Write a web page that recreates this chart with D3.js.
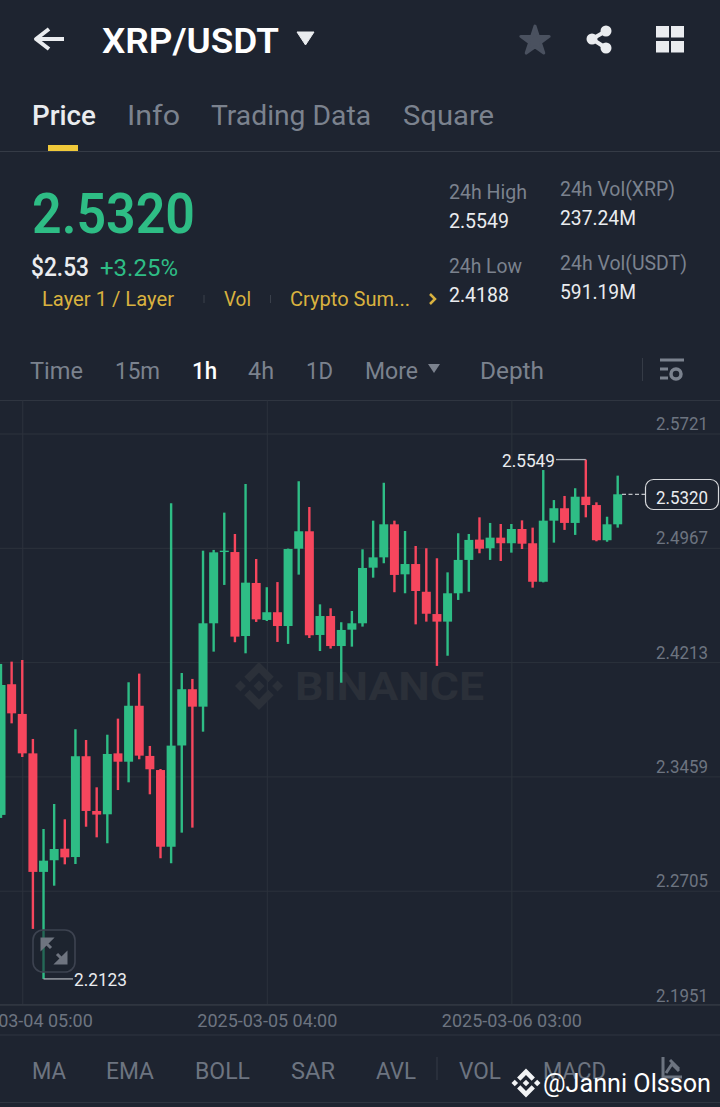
<!DOCTYPE html>
<html>
<head>
<meta charset="utf-8">
<style>
  html, body { margin: 0; padding: 0; background: #1e2430; }
  svg { display: block; }
  text { font-family: Roboto, "Noto Sans", sans-serif; }
</style>
</head>
<body>
<svg id="chart" width="720" height="1107"></svg>
<script src="https://cdn.jsdelivr.net/npm/d3@7"></script>
<script>
// hourly candles, oldest first
const opens = [2.3205,2.4067,2.3871,2.3611,2.2829,2.2906,2.2982,2.2927,2.3592,2.3231,2.3209,2.3611,2.3556,2.3925,2.3594,2.3501,2.2995,2.3663,2.4034,2.3919,2.4469,2.4939,2.4939,2.4385,2.4735,2.4491,2.4542,2.4451,2.4961,2.5076,2.4392,2.4517,2.4319,2.4427,2.4469,2.4836,2.4904,2.5122,2.4792,2.4860,2.4677,2.4530,2.4480,2.4667,2.4887,2.5021,2.4964,2.5034,2.4997,2.5091,2.4997,2.4743,2.5146,2.5228,2.5131,2.5304,2.5249,2.5017,2.5122];
const highs = [2.4201,2.4216,2.4227,2.3706,2.3112,2.3277,2.3176,2.3770,2.3699,2.3387,2.3734,2.3840,2.4080,2.4137,2.3660,2.3508,2.5261,2.4141,2.4102,2.4948,2.4953,2.5199,2.5058,2.5388,2.4893,2.4707,2.4741,2.4962,2.5406,2.5236,2.4594,2.4568,2.4476,2.4550,2.4957,2.5146,2.5396,2.5146,2.5078,2.4979,2.4964,2.4898,2.4805,2.5063,2.5058,2.5168,2.5131,2.5124,2.5124,2.5148,2.5100,2.5480,2.5282,2.5309,2.5360,2.5549,2.5267,2.5172,2.5443];
const lows = [2.3185,2.3809,2.3587,2.2453,2.2123,2.2738,2.2879,2.2881,2.3127,2.3057,2.3018,2.3369,2.3420,2.3572,2.3341,2.2919,2.2886,2.3088,2.3121,2.3754,2.4282,2.4722,2.4344,2.4271,2.4478,2.4484,2.4346,2.4333,2.4790,2.4372,2.4286,2.4302,2.4077,2.4315,2.4447,2.4770,2.4865,2.4674,2.4667,2.4462,2.4480,2.4188,2.4255,2.4623,2.4677,2.4931,2.4887,2.4880,2.4935,2.4959,2.4704,2.4739,2.5001,2.5085,2.5052,2.5168,2.5010,2.5007,2.5100];
const closes = [2.4062,2.3875,2.3611,2.2829,2.2903,2.2980,2.2925,2.3592,2.3231,2.3207,2.3607,2.3556,2.3925,2.3596,2.3506,2.2995,2.3662,2.4034,2.3919,2.4469,2.4937,2.4948,2.4381,2.4737,2.4495,2.4542,2.4451,2.4959,2.5076,2.4390,2.4517,2.4319,2.4425,2.4469,2.4834,2.4904,2.5122,2.4788,2.4860,2.4682,2.4532,2.4480,2.4667,2.4887,2.5019,2.4961,2.5034,2.4997,2.5091,2.4994,2.4743,2.5146,2.5228,2.5131,2.5304,2.5249,2.5017,2.5122,2.5320];

const firstHour = Date.UTC(2025, 2, 4, 3);
const priceTicks = [2.5721, 2.4967, 2.4213, 2.3459, 2.2705, 2.1951];
const timeTicks = [Date.UTC(2025, 2, 4, 5), Date.UTC(2025, 2, 5, 4), Date.UTC(2025, 2, 6, 3)];
const lastPrice = 2.5320, dayHigh = 2.5549, dayLow = 2.2123;

const tabs = ["Price", "Info", "Trading Data", "Square"];
const intervals = ["Time", "15m", "1h", "4h", "1D", "More", "Depth"];
const indicators = ["MA", "EMA", "BOLL", "SAR", "AVL", "VOL", "MACD"];

const BG = "#1e2430", GREEN = "#2ebd85", RED = "#f6465d", GREY = "#7b828e", DIM = "#6d7480",
  GRID = "#2c323c", GOLD = "#d9b23f", WHITE = "#eaecef";

const svg = d3.select("#chart");
svg.append("rect").attr("width", 720).attr("height", 1107).attr("fill", BG);

// text squeezed to the width it has in the screenshot (the app font is narrower than ours)
function label(text, x0, x1, baseline, size, color, weight) {
  return svg.append("text")
    .attr("x", x0).attr("y", baseline)
    .attr("textLength", x1 - x0).attr("lengthAdjust", "spacingAndGlyphs")
    .attr("font-size", size).attr("font-weight", weight || 400)
    .attr("fill", color).text(text);
}

function rule(x1, y1, x2, y2, color, w) {
  return svg.append("line").attr("x1", x1).attr("y1", y1).attr("x2", x2).attr("y2", y2)
    .attr("stroke", color).attr("stroke-width", w || 1);
}

function logo(cx, cy, size, color) {
  const parts = [
    "38.73 53.2 63.3 28.63 87.89 53.22 102.2 38.92 63.3 0 24.42 38.9",
    "0 63.3 14.3 49 28.6 63.3 14.3 77.6",
    "38.73 73.41 63.3 98 87.89 73.4 102.2 87.7 63.3 126.61 24.42 87.71",
    "98 63.31 112.3 49 126.6 63.3 112.3 77.61",
    "77.83 63.3 63.3 48.78 48.78 63.29 63.3 77.82",
  ];
  const k = size / 126.61;
  const g = svg.append("g")
    .attr("transform", `translate(${cx - size / 2},${cy - size / 2}) scale(${k})`);
  parts.forEach((p) => g.append("polygon").attr("points", p).attr("fill", color));
}

// --- header chrome ---

svg.append("path").attr("d", "M64,39 H37 M49,29 L36,39 L49,49")
  .attr("fill", "none").attr("stroke", WHITE).attr("stroke-width", 4).attr("stroke-linejoin", "round");
label("XRP/USDT", 102, 279, 52.5, 35, "#fff", 600);
svg.append("path").attr("d", "M297,32 H314 L305.5,45 Z").attr("fill", WHITE).attr("stroke", WHITE).attr("stroke-linejoin", "round");

svg.append("path").attr("transform", "translate(535,41)")
  .attr("d", d3.symbol(d3.symbolStar, 250)()).attr("fill", "#4a515f").attr("stroke", "#4a515f")
  .attr("stroke-width", 3).attr("stroke-linejoin", "round");

svg.append("path").attr("d", "M606,31 L592,39 L606,48")
  .attr("fill", "none").attr("stroke", WHITE).attr("stroke-width", 4);
[[606, 31], [592, 39], [606, 48]].forEach(([cx, cy]) =>
  svg.append("circle").attr("cx", cx).attr("cy", cy).attr("r", 5.5).attr("fill", WHITE));

[[656, 26], [671, 26], [656, 41], [671, 41]].forEach(([x, y]) =>
  svg.append("rect").attr("x", x).attr("y", y).attr("width", 13).attr("height", 11.5).attr("fill", WHITE));

const tabX = [[32, 96], [127, 180], [211, 371], [403, 494]];
tabs.forEach((t, i) => label(t, tabX[i][0], tabX[i][1], 124.5, 27.5, i === 0 ? WHITE : GREY, i === 0 ? 500 : 400));
svg.append("rect").attr("x", 48).attr("y", 145).attr("width", 30).attr("height", 6).attr("fill", "#f0c93a");
rule(0, 151.5, 720, 151.5, "#353b46");

// --- price block ---

label("2.5320", 32, 195, 233, 56, GREEN, 600);
label("$2.53", 31, 89, 276, 25, WHITE, 500);
label("+3.25%", 100, 178, 276, 24.5, GREEN, 400);
label("Layer 1 / Layer", 42, 174, 306, 20.5, GOLD);
label("Vol", 224, 251, 306, 20.5, GOLD);
label("Crypto Sum...", 290, 410, 306, 20.5, GOLD);
rule(204, 295, 204, 303, "#3a404b");
rule(270.5, 295, 270.5, 303, "#3a404b");
svg.append("path").attr("d", "M430,294 L435,299 L430,304").attr("fill", "none").attr("stroke", GOLD).attr("stroke-width", 2.5);

label("24h High", 449, 527, 199, 20.5, GREY);
label("2.5549", 449, 509, 227.5, 19.5, WHITE);
label("24h Low", 449, 522, 273, 20.5, GREY);
label("2.4188", 449, 509, 301.5, 19.5, WHITE);
label("24h Vol(XRP)", 560, 675, 196, 20.5, GREY);
label("237.24M", 560, 636, 224.5, 19.5, WHITE);
label("24h Vol(USDT)", 560, 687, 270, 20.5, GREY);
label("591.19M", 560, 636, 298.5, 19.5, WHITE);

// --- interval row ---

const intervalX = [[30, 83], [115, 160], [192, 217], [248, 274], [306, 333], [365, 418], [480, 544]];
intervals.forEach((t, i) => label(t, intervalX[i][0], intervalX[i][1], 379, 24.5, t === "1h" ? "#fff" : GREY, t === "1h" ? 500 : 400));
svg.append("path").attr("d", "M428,364 H440 L434,373 Z").attr("fill", GREY);
rule(642.5, 358, 642.5, 381, "#353b46");
svg.append("path").attr("d", "M660,360 H684 M660,369 H668 M660,378 H668").attr("stroke", GREY).attr("stroke-width", 3);
svg.append("circle").attr("cx", 676).attr("cy", 374).attr("r", 5).attr("fill", "none").attr("stroke", GREY).attr("stroke-width", 3.5);
rule(0, 400.5, 720, 400.5, "#2f3540");

// --- chart ---

const candles = opens.map((o, i) => ({
  t: d3.utcHour.offset(firstHour, i), o, h: highs[i], l: lows[i], c: closes[i],
}));

const x = d3.scaleUtc().domain([candles[0].t, candles[candles.length - 1].t]).range([1, 617.7]);
const y = d3.scaleLinear().domain([2.1951, 2.5721]).range([1005, 433.5]);

const yAxis = svg.append("g").attr("transform", "translate(720,0)")
  .call(d3.axisLeft(y).tickValues(priceTicks).tickSize(720).tickFormat(d3.format(".4f")));
yAxis.select(".domain").remove();
yAxis.selectAll("line").attr("stroke", GRID);
yAxis.selectAll("text")
  .attr("x", -12).attr("y", -4).attr("dy", 0).attr("text-anchor", "end")
  .attr("font-size", 18).attr("textLength", 52).attr("lengthAdjust", "spacingAndGlyphs")
  .attr("font-family", "Roboto").attr("fill", DIM);

const xAxis = svg.append("g").attr("transform", "translate(0,1005)")
  .call(d3.axisBottom(x).tickValues(timeTicks).tickSize(-604.5).tickFormat(d3.utcFormat("%Y-%m-%d %H:%M")));
xAxis.select(".domain").remove();
xAxis.selectAll("line").attr("stroke", GRID);
xAxis.selectAll("text")
  .attr("y", 22).attr("dy", 0).attr("font-size", 17.5).attr("textLength", 140)
  .attr("lengthAdjust", "spacingAndGlyphs").attr("font-family", "Roboto").attr("fill", DIM);

rule(0, 1004.5, 720, 1004.5, "#2f3540");
rule(0, 1035, 720, 1035, "#2f3540");
rule(0, 1102.5, 720, 1102.5, "#2f3540");

// watermark sits under the candles
logo(259, 686, 48, "#2b3039");
svg.append("text").attr("x", 295).attr("y", 700).attr("textLength", 189).attr("lengthAdjust", "spacingAndGlyphs")
  .attr("font-size", 39).attr("font-weight", 700).attr("fill", "#2b3039").text("BINANCE");

const color = (d) => (d.c >= d.o ? GREEN : RED);
const BODY = 9;

svg.append("g").selectAll("line").data(candles).join("line")
  .attr("x1", (d) => x(d.t)).attr("x2", (d) => x(d.t))
  .attr("y1", (d) => y(d.h)).attr("y2", (d) => y(d.l))
  .attr("stroke", color).attr("stroke-width", 2.4);

svg.append("g").selectAll("rect").data(candles).join("rect")
  .attr("x", (d) => x(d.t) - BODY / 2)
  .attr("y", (d) => y(Math.max(d.o, d.c)))
  .attr("width", BODY)
  .attr("height", (d) => Math.max(1.2, Math.abs(y(d.o) - y(d.c))))
  .attr("fill", color);

// high / low callouts and last price tag
const hiX = x(candles[highs.indexOf(dayHigh)].t), loX = x(candles[lows.indexOf(dayLow)].t);
rule(556, y(dayHigh), hiX, y(dayHigh), "#a9adb4", 1.3);
label("2.5549", 502, 555, y(dayHigh) + 7, 18.5, WHITE);
rule(loX, y(dayLow), 73, y(dayLow), "#a9adb4", 1.3);
label("2.2123", 74, 127, y(dayLow) + 7.5, 18.5, WHITE);

rule(622, y(lastPrice), 645, y(lastPrice), WHITE).attr("stroke-dasharray", "4 2.5");
svg.append("rect").attr("x", 645.5).attr("y", 479.5).attr("width", 73).attr("height", 30).attr("rx", 8)
  .attr("fill", BG).attr("stroke", "#d5d7da").attr("stroke-width", 1.2);
label("2.5320", 656, 708, 504, 18.5, WHITE);

// expand button over the chart
svg.append("rect").attr("x", 33).attr("y", 930).attr("width", 42).attr("height", 42).attr("rx", 10)
  .attr("fill", BG).attr("fill-opacity", 0.55).attr("stroke", "#3d4350").attr("stroke-width", 1.6);
svg.append("path").attr("d", "M42,939 H51 L42,948 Z M66,963 H57 L66,954 Z M45,942 L51,948 M57,954 L63,960")
  .attr("fill", "#6f7580").attr("stroke", "#6f7580").attr("stroke-width", 3);

// --- indicator row ---

const indicatorX = [[32, 66], [106, 154], [195, 250], [291, 335], [376, 416], [459, 501], [543, 606]];
indicators.forEach((t, i) => label(t, indicatorX[i][0], indicatorX[i][1], 1079, 24.5, DIM));
rule(437, 1057, 437, 1080, "#353b46");
svg.append("path").attr("d", "M663,1057 V1077 H682 M666,1073 L672,1064 L679,1071 M670,1060 L679,1069")
  .attr("fill", "none").attr("stroke", DIM).attr("stroke-width", 3);

logo(526, 1083, 29, "#f2f3f5");
label("@Janni Olsson", 543, 711, 1092, 26, "#fff");
</script>
</body>
</html>
